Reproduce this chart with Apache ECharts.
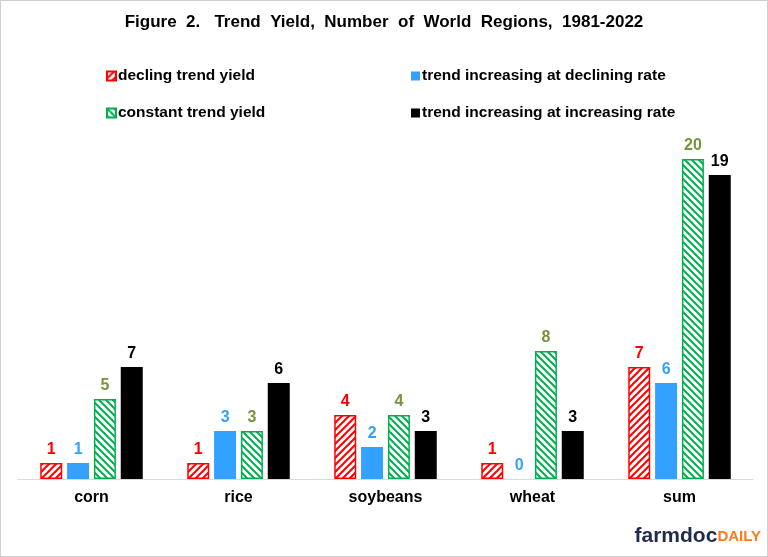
<!DOCTYPE html>
<html>
<head>
<meta charset="utf-8">
<script src="https://cdn.jsdelivr.net/npm/echarts@6/dist/echarts.min.js"></script>
<style>
  html, body { margin: 0; padding: 0; background: #fff; }
  #main { width: 766px; height: 555px; border: 1px solid #d0d0d0; }
</style>
</head>
<body>
<div id="main"></div>
<script>
var categories = ['corn', 'rice', 'soybeans', 'wheat', 'sum'];
var declining = [1, 1, 4, 1, 7];
var incDeclining = [1, 3, 2, 0, 6];
var constant = [5, 3, 4, 8, 20];
var incIncreasing = [7, 6, 3, 3, 19];

var seriesNames = [
    'decling trend yield',
    'trend increasing at declining rate',
    'constant trend yield',
    'trend increasing at increasing rate'
];

// striped fill, dir 1 = "/" and -1 = "\"
function stripes(color, dir) {
    var s = 7;
    var c = document.createElement('canvas');
    c.width = s; c.height = s;
    var ctx = c.getContext('2d');
    ctx.fillStyle = '#fff';
    ctx.fillRect(0, 0, s, s);
    ctx.strokeStyle = color;
    ctx.lineWidth = 2;
    for (var k = -1; k <= 1; k++) {
        ctx.beginPath();
        if (dir > 0) {
            ctx.moveTo(k * s - 1, s + 1);
            ctx.lineTo(k * s + s + 1, -1);
        } else {
            ctx.moveTo(k * s - 1, -1);
            ctx.lineTo(k * s + s + 1, s + 1);
        }
        ctx.stroke();
    }
    return { image: c, repeat: 'repeat' };
}

var myChart = echarts.init(document.getElementById('main'));

var labelFont = {
    show: true,
    position: 'top',
    fontFamily: 'Arial, Liberation Sans',
    fontWeight: 'bold',
    fontSize: 16,
    distance: 5
};

function bar(name, data, fill, border, labelColor) {
    return {
        name: name,
        type: 'bar',
        data: data,
        barWidth: 22,
        barGap: '22%',
        itemStyle: { color: fill, borderColor: border, borderWidth: border ? 1.5 : 0 },
        label: Object.assign({}, labelFont, { color: labelColor })
    };
}

var legendText = { fontFamily: 'Arial, Liberation Sans', fontWeight: 'bold', fontSize: 15.5, color: '#000', padding: [0, 0, 0, -3] };

var option = {
    backgroundColor: '#fff',
    animation: false,
    title: {
        text: 'Figure  2.   Trend  Yield,  Number  of  World  Regions,  1981-2022',
        left: 'center',
        top: 8,
        textStyle: {
            fontFamily: 'Arial, Liberation Sans',
            fontWeight: 'bold',
            fontSize: 17,
            color: '#000'
        }
    },
    legend: [
        {
            orient: 'vertical',
            left: 100,
            top: 62,
            itemGap: 21,
            itemWidth: 9,
            itemHeight: 9,
            icon: 'rect',
            data: [seriesNames[0], seriesNames[2]],
            textStyle: legendText
        },
        {
            orient: 'vertical',
            left: 405,
            top: 62,
            itemGap: 21,
            itemWidth: 9,
            itemHeight: 9,
            icon: 'rect',
            data: [seriesNames[1], seriesNames[3]],
            textStyle: legendText
        }
    ],
    grid: { left: 17, right: 14, top: 158, bottom: 77 },
    xAxis: {
        type: 'category',
        data: categories,
        axisLine: { lineStyle: { color: '#d9d9d9', width: 1 } },
        axisTick: { show: false },
        axisLabel: {
            margin: 11,
            fontFamily: 'Arial, Liberation Sans',
            fontWeight: 'bold',
            fontSize: 16,
            color: '#000'
        }
    },
    yAxis: {
        type: 'value',
        min: 0,
        max: 20,
        show: false,
        splitLine: { show: false }
    },
    series: [
        bar(seriesNames[0], declining, stripes('#ff0000', 1), '#ff0000', '#ff0000'),
        bar(seriesNames[1], incDeclining, '#33a1ff', null, '#33a1ff'),
        bar(seriesNames[2], constant, stripes('#00b050', -1), '#00b050', '#77933c'),
        bar(seriesNames[3], incIncreasing, '#000000', null, '#000000')
    ],
    graphic: [
        {
            type: 'text',
            right: 6,
            bottom: 9,
            style: {
                text: '{a|farmdoc}{b|DAILY}',
                rich: {
                    a: { fontFamily: 'Arial, Liberation Sans', fontWeight: 'bold', fontSize: 21, fill: '#1f2a4d' },
                    b: { fontFamily: 'Arial, Liberation Sans', fontWeight: 'bold', fontSize: 15, fill: '#ff7a1a' }
                }
            }
        }
    ]
};

myChart.setOption(option);
</script>
</body>
</html>
